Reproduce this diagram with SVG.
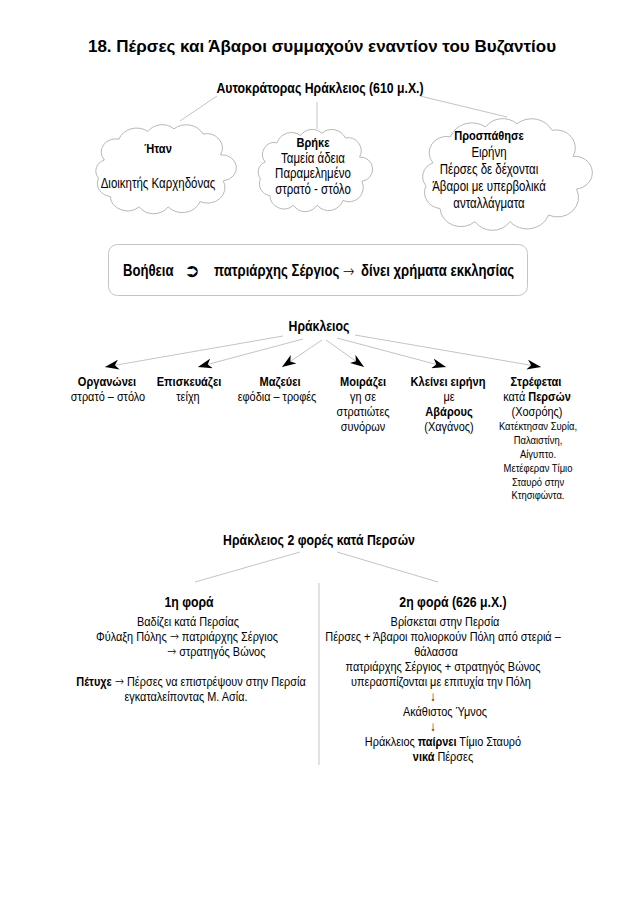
<svg xmlns="http://www.w3.org/2000/svg" xmlns:xlink="http://www.w3.org/1999/xlink" width="638" height="903" viewBox="0 0 638 903">
<style>
text{font-family:"Liberation Sans",Arial,sans-serif;fill:#000;text-anchor:middle}
.t{font-size:17px;font-weight:bold}
.h{font-size:15px;font-weight:bold}
.hb{font-size:16px;font-weight:bold}
.c{font-size:13.5px;font-weight:bold}
.cr{font-size:14px}
.r{font-size:13.3px}
.s{font-size:11.5px}
.b{font-weight:bold}
.st{text-anchor:start}
.ar{font-family:"DejaVu Sans",sans-serif;font-weight:200}
.ln{stroke:#c4c4c4;stroke-width:1;fill:none}
.cl{fill:#fff;stroke:#b8b8b8;stroke-width:1}
</style>
<defs>
<path id="cloud" d="M12 30A10 10 0 0 1 22 14A13 13 0 0 1 42 8A12 12 0 0 1 60 6A13 13 0 0 1 80 10A11 11 0 0 1 92 26A10 10 0 0 1 94 46A12 12 0 0 1 78 62A13 13 0 0 1 56 66A12 12 0 0 1 36 66A12 12 0 0 1 16 58A10 10 0 0 1 8 44A9 9 0 0 1 12 30Z" vector-effect="non-scaling-stroke"/>
<marker id="ah" viewBox="0 0 14 10" refX="14" refY="5" markerWidth="14" markerHeight="10" markerUnits="userSpaceOnUse" orient="auto">
<path d="M0 0L14 5L0 10L4 5Z" fill="#000"/>
</marker>
</defs>
<text class="t" x="322" y="52">18. Πέρσες και Άβαροι συμμαχούν εναντίον του Βυζαντίου</text>
<g id="connectors">
<line class="ln" x1="217" y1="96" x2="180" y2="121"/>
<line class="ln" x1="317" y1="102" x2="317" y2="129"/>
<line class="ln" x1="420" y1="96" x2="507" y2="117"/>
<line class="ln" x1="283" y1="336" x2="105" y2="367" marker-end="url(#ah)"/>
<line class="ln" x1="303" y1="339" x2="198" y2="367" marker-end="url(#ah)"/>
<line class="ln" x1="322" y1="340" x2="282" y2="367" marker-end="url(#ah)"/>
<line class="ln" x1="326" y1="340" x2="364" y2="367" marker-end="url(#ah)"/>
<line class="ln" x1="337" y1="338" x2="446" y2="367" marker-end="url(#ah)"/>
<line class="ln" x1="355" y1="335" x2="541" y2="367" marker-end="url(#ah)"/>
<line class="ln" x1="300" y1="552" x2="195" y2="582"/>
<line class="ln" x1="337" y1="552" x2="438" y2="582"/>
<line class="ln" x1="319" y1="583" x2="319" y2="765"/>
</g>
<g id="emperor"><text class="h" transform="translate(320 93) scale(.82 1)">Αυτοκράτορας Ηράκλειος (610 μ.Χ.)</text></g>
<g id="cloud-itan">
<use xlink:href="#cloud" class="cl" transform="translate(87 121) scale(1.45 1.3)"/>
<text class="c" transform="translate(158 153) scale(.82 1)">Ήταν</text>
<text class="cr" transform="translate(158 188) scale(.82 1)">Διοικητής Καρχηδόνας</text>
</g>
<g id="cloud-vrike">
<use xlink:href="#cloud" class="cl" transform="translate(251 126) scale(1.18 1.2)"/>
<text class="c" transform="translate(313 147) scale(.82 1)">Βρήκε</text>
<text class="cr" transform="translate(313 163) scale(.82 1)">Ταμεία άδεια</text>
<text class="cr" transform="translate(313 178) scale(.82 1)">Παραμελημένο</text>
<text class="cr" transform="translate(313 194) scale(.82 1)">στρατό - στόλο</text>
</g>
<g id="cloud-prospathise">
<use xlink:href="#cloud" class="cl" transform="translate(412 114) scale(1.75 1.63)"/>
<text class="c" transform="translate(489 140) scale(.82 1)">Προσπάθησε</text>
<text class="cr" transform="translate(489 157) scale(.82 1)">Ειρήνη</text>
<text class="cr" transform="translate(489 174) scale(.82 1)">Πέρσες δε δέχονται</text>
<text class="cr" transform="translate(489 191) scale(.82 1)">Άβαροι με υπερβολικά</text>
<text class="cr" transform="translate(489 208) scale(.82 1)">ανταλλάγματα</text>
</g>
<g id="help-box">
<rect x="108.5" y="244.5" width="419" height="51" rx="9" fill="#fff" stroke="#c4c4c4"/>
<text class="hb st" transform="translate(123 276) scale(.82 1)">Βοήθεια</text>
<text x="192" y="277" style="font-family:'DejaVu Sans',sans-serif;font-size:19px;font-weight:bold">➲</text>
<text class="hb st" transform="translate(214 276) scale(.82 1)">πατριάρχης Σέργιος <tspan class="ar" dy="1" style="font-size:17px">→</tspan><tspan dx="8" dy="-1">δίνει χρήματα εκκλησίας</tspan></text>
</g>
<g id="heraclius"><text class="h" transform="translate(319 331) scale(.82 1)">Ηράκλειος</text></g>
<g id="col-organonei">
<text class="c" transform="translate(107 386) scale(.82 1)">Οργανώνει</text>
<text class="r" transform="translate(108 401) scale(.82 1)">στρατό – στόλο</text>
</g>
<g id="col-episkevazei">
<text class="c" transform="translate(189 386) scale(.82 1)">Επισκευάζει</text>
<text class="r" transform="translate(188 401) scale(.82 1)">τείχη</text>
</g>
<g id="col-mazevei">
<text class="c" transform="translate(280 386) scale(.82 1)">Μαζεύει</text>
<text class="r" transform="translate(277 401) scale(.82 1)">εφόδια – τροφές</text>
</g>
<g id="col-moirazei">
<text class="c" transform="translate(363 386) scale(.82 1)">Μοιράζει</text>
<text class="r" transform="translate(363 401) scale(.82 1)">γη σε</text>
<text class="r" transform="translate(363 416) scale(.82 1)">στρατιώτες</text>
<text class="r" transform="translate(363 431) scale(.82 1)">συνόρων</text>
</g>
<g id="col-kleinei">
<text class="c" transform="translate(448 386) scale(.82 1)">Κλείνει ειρήνη</text>
<text class="r" transform="translate(449 401) scale(.82 1)">με</text>
<text class="c" transform="translate(449 416) scale(.82 1)">Αβάρους</text>
<text class="r" transform="translate(449 431) scale(.82 1)">(Χαγάνος)</text>
</g>
<g id="col-strefetai">
<text class="c" transform="translate(536 386) scale(.82 1)">Στρέφεται</text>
<text class="r" transform="translate(537 401) scale(.82 1)">κατά <tspan class="b">Περσών</tspan></text>
<text class="r" transform="translate(537 416) scale(.82 1)">(Χοσρόης)</text>
<text class="s" transform="translate(538 430) scale(.82 1)">Κατέκτησαν Συρία,</text>
<text class="s" transform="translate(538 444) scale(.82 1)">Παλαιστίνη,</text>
<text class="s" transform="translate(538 458) scale(.82 1)">Αίγυπτο.</text>
<text class="s" transform="translate(538 472) scale(.82 1)">Μετέφεραν Τίμιο</text>
<text class="s" transform="translate(538 486) scale(.82 1)">Σταυρό στην</text>
<text class="s" transform="translate(538 499) scale(.82 1)">Κτησιφώντα.</text>
</g>
<g id="two-times"><text class="h" transform="translate(319 545) scale(.82 1)">Ηράκλειος 2 φορές κατά Περσών</text></g>
<g id="first-time">
<text class="h" transform="translate(189 607) scale(.82 1)">1η φορά</text>
<text class="r" transform="translate(188 626) scale(.82 1)">Βαδίζει κατά Περσίας</text>
<text class="r" transform="translate(187 641) scale(.82 1)">Φύλαξη Πόλης <tspan class="ar">→</tspan> πατριάρχης Σέργιος</text>
<text class="r st" transform="translate(167 656) scale(.82 1)"><tspan class="ar">→</tspan> στρατηγός Βώνος</text>
<text class="r" transform="translate(191 686) scale(.82 1)"><tspan class="b">Πέτυχε</tspan> <tspan class="ar">→</tspan> Πέρσες να επιστρέψουν στην Περσία</text>
<text class="r" transform="translate(186 701) scale(.82 1)">εγκαταλείποντας Μ. Ασία.</text>
</g>
<g id="second-time">
<text class="h" transform="translate(453 607) scale(.82 1)">2η φορά (626 μ.Χ.)</text>
<text class="r" transform="translate(445 626) scale(.82 1)">Βρίσκεται στην Περσία</text>
<text class="r" transform="translate(443 641) scale(.82 1)">Πέρσες + Άβαροι πολιορκούν Πόλη από στεριά –</text>
<text class="r" transform="translate(436 656) scale(.82 1)">θάλασσα</text>
<text class="r" transform="translate(443 671) scale(.82 1)">πατριάρχης Σέργιος + στρατηγός Βώνος</text>
<text class="r" transform="translate(441 686) scale(.82 1)">υπερασπίζονται με επιτυχία την Πόλη</text>
<text class="r" transform="translate(433 701) scale(.82 1)">↓</text>
<text class="r" transform="translate(445 716) scale(.82 1)">Ακάθιστος Ύμνος</text>
<text class="r" transform="translate(433 731) scale(.82 1)">↓</text>
<text class="r" transform="translate(443 746) scale(.82 1)">Ηράκλειος <tspan class="b">παίρνει</tspan> Τίμιο Σταυρό</text>
<text class="r" transform="translate(443 761) scale(.82 1)"><tspan class="b">νικά</tspan> Πέρσες</text>
</g>
</svg>
